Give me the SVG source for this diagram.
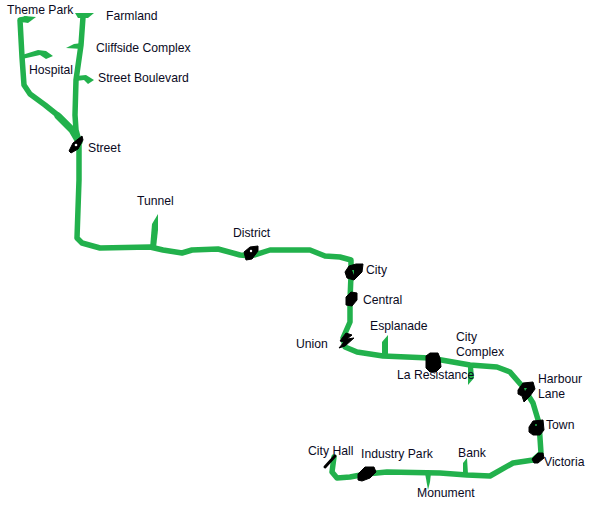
<svg xmlns="http://www.w3.org/2000/svg" width="590" height="513" viewBox="0 0 590 513">
<style>
.l{fill:none;stroke:#22b14c;stroke-linejoin:round;stroke-linecap:round}
.m{stroke-width:5.5}.b{stroke-width:4}.t{stroke-width:7}
.s{fill:#000;stroke:#000;stroke-width:1;stroke-linejoin:round}
.d{fill:#22b14c}
text{font-family:"Liberation Sans",Arial,sans-serif;font-size:12.2px;fill:#0a0a1e}
</style>
<rect width="590" height="513" fill="#fff"/>
<g id="connectors">
<path class="l m" d="M26 19 L20 20 L22 57 L24 85 L30 94 L45 105 L60 117 L72 129 L79 141"/>
<path class="l m" d="M83 17 L81 45 L76 80 L75 115 L76 130 L79 141"/>
<path class="l t" d="M58 116 L72 130 L79 142"/>
<path class="d" d="M75 13 L94 13 L88 18 L78 18Z"/>
<path class="d" d="M24 16 L36 17 L28 23 L22 22Z"/>
<path class="l m" d="M79 141 L79 180 L77 238 L82 243 L100 248 L150 247 L163 250 L182 253 L192 250 L218 249 L240 255 L251 256 L270 250 L310 250 L325 256 L340 257 L351 260 L351 275 L350 300 L350 322 L343 338 L345 347 L357 352 L383 356 L430 358 L470 365 L497 367 L510 372 L523 387 L533 403 L539 423 L541 453 L533 460 L513 463 L490 476 L467 475 L440 473 L387 472 L366 474 L350 477 L337 478 L332 472 L334 457"/>
<path class="d" d="M22 55 L38 50 L46 51 L53 56 L46 59 L40 55 L22 59Z"/>
<path class="d" d="M66 48 L74 44 L82 43 L82 49Z"/>
<path class="d" d="M76 76 L86 75 L94 80 L88 84 L84 80 L76 81Z"/>
<path class="d" d="M150 248 L152 224 L158 214 L158 230 L156 248Z"/>
<path class="d" d="M382 356 L382 342 L388 335 L388 356Z"/>
<path class="d" d="M468 365 L473 365 L474 378 L468 385Z"/>
<path class="d" d="M463 474 L463 463 L467 458 L468 474Z"/>
<path class="d" d="M425 473 L431 473 L430 482 L428 490Z"/>
</g>
<g id="street"><path class="s" d="M69 151 L73 143 L82 136 L83 140 L78 149 L71 153Z"/><circle cx="76" cy="145" r="1.3" fill="#fff"/><text x="88" y="152">Street</text></g>
<g id="district"><path class="s" d="M244 252 L250 247 L258 246 L258 251 L252 259 L246 260Z"/><circle cx="251" cy="251" r="1.2" fill="#fff"/><text x="233" y="237">District</text></g>
<g id="city"><path class="s" d="M345 272 L349 266 L356 264 L363 264 L362 272 L354 280 L347 278Z"/><path class="d" d="M352 270 L354 270 L354 275Z"/><text x="366" y="274">City</text></g>
<g id="central"><path class="s" d="M346 297 L351 292 L357 293 L357 300 L352 306 L346 305Z"/><text x="363" y="304">Central</text></g>
<g id="union"><path class="s" d="M340 341 L346 333 L352 335 L347 339 L354 338 L345 346 L339 348 L344 342Z"/><text x="296" y="348">Union</text></g>
<g id="la-resistance"><path class="s" d="M426 356 L430 353 L438 353 L440 358 L441 367 L436 372 L430 372 L426 368Z"/><text x="397" y="379">La Resistance</text></g>
<g id="city-complex"><text x="456" y="341">City</text><text x="456" y="356">Complex</text></g>
<g id="harbour-lane"><path class="s" d="M518 390 L523 383 L533 382 L535 389 L530 396 L524 402 L522 396 L518 394Z"/><path class="d" d="M524 388 L527 388 L525 391Z"/><text x="538" y="383">Harbour</text><text x="538" y="398">Lane</text></g>
<g id="town"><path class="s" d="M529 427 L533 421 L543 420 L544 430 L540 435 L533 435 L529 432Z"/><circle cx="536" cy="425" r="1" fill="#22b14c"/><text x="546" y="429">Town</text></g>
<g id="victoria"><path class="s" d="M532 459 L538 453 L543 453 L544 458 L538 463 L534 463Z"/><text x="544" y="466">Victoria</text></g>
<g id="bank"><text x="458" y="457">Bank</text></g>
<g id="monument"><text x="417" y="497">Monument</text></g>
<g id="industry-park"><path class="s" d="M358 474 L365 467 L374 467 L376 472 L370 478 L362 481 L358 480Z"/><text x="361" y="458">Industry Park</text></g>
<g id="city-hall"><path class="l" style="stroke:#000;stroke-width:3" d="M325 467 L335 456"/><text x="308" y="455">City Hall</text></g>
<g id="tunnel"><text x="137" y="205">Tunnel</text></g>
<g id="esplanade"><text x="370" y="330">Esplanade</text></g>
<g id="theme-park"><text x="7" y="14">Theme Park</text></g>
<g id="farmland"><text x="106" y="20">Farmland</text></g>
<g id="cliffside-complex"><text x="96" y="52">Cliffside Complex</text></g>
<g id="hospital"><text x="29" y="74">Hospital</text></g>
<g id="street-boulevard"><text x="98" y="82">Street Boulevard</text></g>
</svg>
